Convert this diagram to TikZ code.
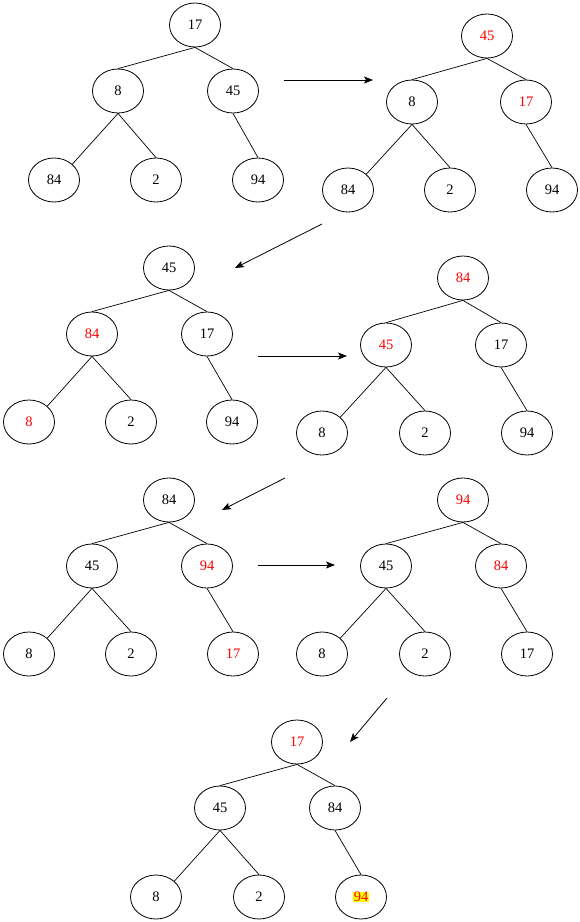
\documentclass[tikz,border=0pt]{standalone}
\usepackage{fontspec}
\setmainfont{Liberation Serif}
\usepackage{xcolor}
\usepackage{tikz}
\usetikzlibrary{shapes.geometric,arrows.meta}
\definecolor{swapred}{RGB}{255,0,0}
\definecolor{markyellow}{RGB}{255,255,0}
\tikzstyle{heapnode} = [ellipse,draw,line width=0.8pt,minimum width=51pt,minimum height=44pt,inner sep=0pt,font=\fontsize{14.5}{17}\selectfont]
\tikzstyle{swapped} = [text=swapred]
\tikzstyle{edge} = [line width=0.7pt]
\tikzstyle{arrow} = [line width=0.8pt,-{Stealth[length=9pt,width=7pt,inset=2pt]}]

\begin{document}
\begin{tikzpicture}[x=1pt,y=-1pt]
          \useasboundingbox (0,0) rectangle (580,922);
          % tree 1
          \node[heapnode] (root1) at (195,25) {17};
          \node[heapnode] (left1) at (118,91) {8};
          \node[heapnode] (right1) at (233,91) {45};
          \node[heapnode] (leafa1) at (54,180) {84};
          \node[heapnode] (leafb1) at (156,180) {2};
          \node[heapnode] (leafc1) at (258,180) {94};
          % tree 2
          \node[heapnode,swapped] (root2) at (487,36) {45};
          \node[heapnode] (left2) at (412,102) {8};
          \node[heapnode,swapped] (right2) at (526,102) {17};
          \node[heapnode] (leafa2) at (348,190) {84};
          \node[heapnode] (leafb2) at (450,190) {2};
          \node[heapnode] (leafc2) at (552,190) {94};
          % tree 3
          \node[heapnode] (root3) at (169,268) {45};
          \node[heapnode,swapped] (left3) at (92,334) {84};
          \node[heapnode] (right3) at (207,334) {17};
          \node[heapnode,swapped] (leafa3) at (29,422) {8};
          \node[heapnode] (leafb3) at (131,422) {2};
          \node[heapnode] (leafc3) at (232,422) {94};
          % tree 4
          \node[heapnode,swapped] (root4) at (463,278) {84};
          \node[heapnode,swapped] (left4) at (386,345) {45};
          \node[heapnode] (right4) at (501,345) {17};
          \node[heapnode] (leafa4) at (322,433) {8};
          \node[heapnode] (leafb4) at (425,433) {2};
          \node[heapnode] (leafc4) at (527,433) {94};
          % tree 5
          \node[heapnode] (root5) at (169,500) {84};
          \node[heapnode] (left5) at (92,566) {45};
          \node[heapnode,swapped] (right5) at (207,566) {94};
          \node[heapnode] (leafa5) at (29,654) {8};
          \node[heapnode] (leafb5) at (131,654) {2};
          \node[heapnode,swapped] (leafc5) at (233,654) {17};
          % tree 6
          \node[heapnode,swapped] (root6) at (463,500) {94};
          \node[heapnode] (left6) at (386,566) {45};
          \node[heapnode,swapped] (right6) at (501,566) {84};
          \node[heapnode] (leafa6) at (322,654) {8};
          \node[heapnode] (leafb6) at (425,654) {2};
          \node[heapnode] (leafc6) at (527,654) {17};
          % tree 7
          \node[heapnode,swapped] (root7) at (297,742) {17};
          \node[heapnode] (left7) at (220,808) {45};
          \node[heapnode] (right7) at (335,808) {84};
          \node[heapnode] (leafa7) at (156,897) {8};
          \node[heapnode] (leafb7) at (259,897) {2};
          \node[heapnode,swapped] (leafc7) at (361,897) {\setlength{\fboxsep}{0.5pt}\colorbox{markyellow}{94}};

          % edges
          \foreach \t in {1,...,7}{
            \draw[edge] (root\t.south) -- (left\t.north);
            \draw[edge] (root\t.south) -- (right\t.north);
            \draw[edge] (left\t.south) -- (leafa\t.north east);
            \draw[edge] (left\t.south) -- (leafb\t.north);
            \draw[edge] (right\t.south) -- (leafc\t.north);
          }

          % steps
          \coordinate (s1) at (284,80);  \coordinate (e1) at (373,80);
          \coordinate (s2) at (322,224); \coordinate (e2) at (235,268);
          \coordinate (s3) at (258,356); \coordinate (e3) at (347,356);
          \coordinate (s4) at (285,478); \coordinate (e4) at (222,510);
          \coordinate (s5) at (258,565); \coordinate (e5) at (335,565);
          \coordinate (s6) at (387,698); \coordinate (e6) at (350,742);
          \foreach \i in {1,...,6}
            \draw[arrow] (s\i) -- (e\i);
      \end{tikzpicture}
\end{document}
